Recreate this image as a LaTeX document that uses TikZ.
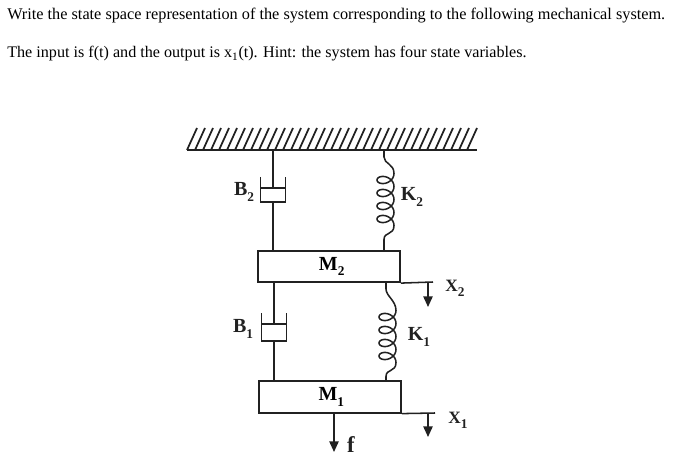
\documentclass[tikz,border=0pt]{standalone}
\usepackage{fontspec}
\setmainfont{Liberation Serif}
\usepackage{xcolor}
\usetikzlibrary{arrows.meta}

\definecolor{inkgray}{rgb}{0.13,0.13,0.13}
\newcommand{\lowsub}[1]{\raisebox{-4pt}{\fontsize{10}{10}\selectfont #1}}
% wire, four loops, wire: x, top, start of loops, bottom
\newcommand{\coilwire}[4]{
  \draw [line] (#1,#2) -- (#1,#2+7) .. controls (#1,#2+14) and (#1+10,#3-10) .. (#1+10,#3)
    plot [domain=0:1440,samples=97,smooth] ({#1+1.5+8.5*cos(\x)},{#3+\x/360*13+6.5*sin(\x)})
    .. controls (#1+10,#3+62) and (#1,#3+58) .. (#1,#3+66) -- (#1,#4);
}
\tikzset{
  line/.style={color=inkgray,line width=1.15pt},
  hatch/.style={color=inkgray,line width=1.3pt},
  massbox/.style={draw=inkgray,line width=1.4pt,minimum width=106.5pt,minimum height=23.5pt,inner sep=0pt,font=\fontsize{15}{15}\selectfont\bfseries},
  downarrow/.style={line,-{Triangle[width=7pt,length=8pt]}},
  symbol/.style={inner sep=0pt,color=inkgray,font=\fontsize{15}{15}\selectfont\bfseries},
  question/.style={anchor=west,inner sep=0pt,color=black},
  dashpot/.pic={
    \draw [line] (-12.5,0) -- (-12.5,#1) -- (12.5,#1) -- (12.5,0);
    \draw [line] (-12.5,11) -- (12.5,11);
    \coordinate (-rod) at (0,11);
    \coordinate (-bot) at (0,#1);
  }
}

\begin{document}
\begin{tikzpicture}[x=0.75pt,y=0.75pt,yscale=-1,xscale=1]
\useasboundingbox (0,0) rectangle (684,459);

% question text
\node (line1) [question,font=\fontsize{12.2}{13}\selectfont] at (7,16) {Write the state space representation of the system corresponding to the following mechanical system.};
\node (line2) [question,font=\fontsize{12.1}{13}\selectfont] at (7,54) {The input is f(t) and the output is x\textsubscript{1}(t). Hint: the system has four state variables.};

% ceiling
\coordinate (ceilL) at (187,150);
\coordinate (ceilR) at (477,150);
\draw [line] (ceilL) -- (ceilR);
\foreach \x in {187,195,...,470}
  \draw [hatch] (\x,150) -- (\x+10,128);

% masses
\node (m2) [massbox] at (329,266.5) {\hspace{4pt}M\lowsub{2}};
\node (m1) [massbox] at (330,397) {\hspace{2pt}M\lowsub{1}};

% dampers
\pic (b2) [yscale=-1] at (273,177) {dashpot=25};
\pic (b1) [yscale=-1] at (274,313) {dashpot=28};
\draw [line] (b2-rod |- ceilL) -- (b2-rod);
\draw [line] (b2-bot) -- (b2-bot |- m2.north);
\draw [line] (b1-rod |- m2.south) -- (b1-rod);
\draw [line] (b1-bot) -- (b1-bot |- m1.north);

% springs
\coilwire{384}{150}{173.5}{250}
\coilwire{386}{282}{310.5}{381}

% displacement and force
\coordinate (x2end) at (433,282);
\coordinate (x2tip) at (428,307);
\coordinate (x1end) at (435,413);
\coordinate (x1tip) at (428,437);
\coordinate (ftip) at (334,452);
\draw [line] (m2.south east) -- (x2end);
\draw [line] (m1.south east) -- (x1end);
\draw [downarrow] (x2tip |- x2end) -- (x2tip);
\draw [downarrow] (x1tip |- x1end) -- (x1tip);
\draw [downarrow] (ftip |- m1.south) -- (ftip);

% labels
\node (lb2) [symbol] at (244,192) {B\lowsub{2}};
\node (lk2) [symbol] at (412,197) {K\lowsub{2}};
\node (lb1) [symbol] at (243,329) {B\lowsub{1}};
\node (lk1) [symbol] at (419,337) {K\lowsub{1}};
\node (lx2) [symbol,font=\fontsize{13}{13}\selectfont\bfseries] at (455,288) {X\lowsub{2}};
\node (lx1) [symbol,font=\fontsize{13}{13}\selectfont\bfseries] at (458,420) {X\lowsub{1}};
\node (lf) [symbol,font=\fontsize{17}{17}\selectfont\bfseries] at (351,445) {f};
\end{tikzpicture}
\end{document}
